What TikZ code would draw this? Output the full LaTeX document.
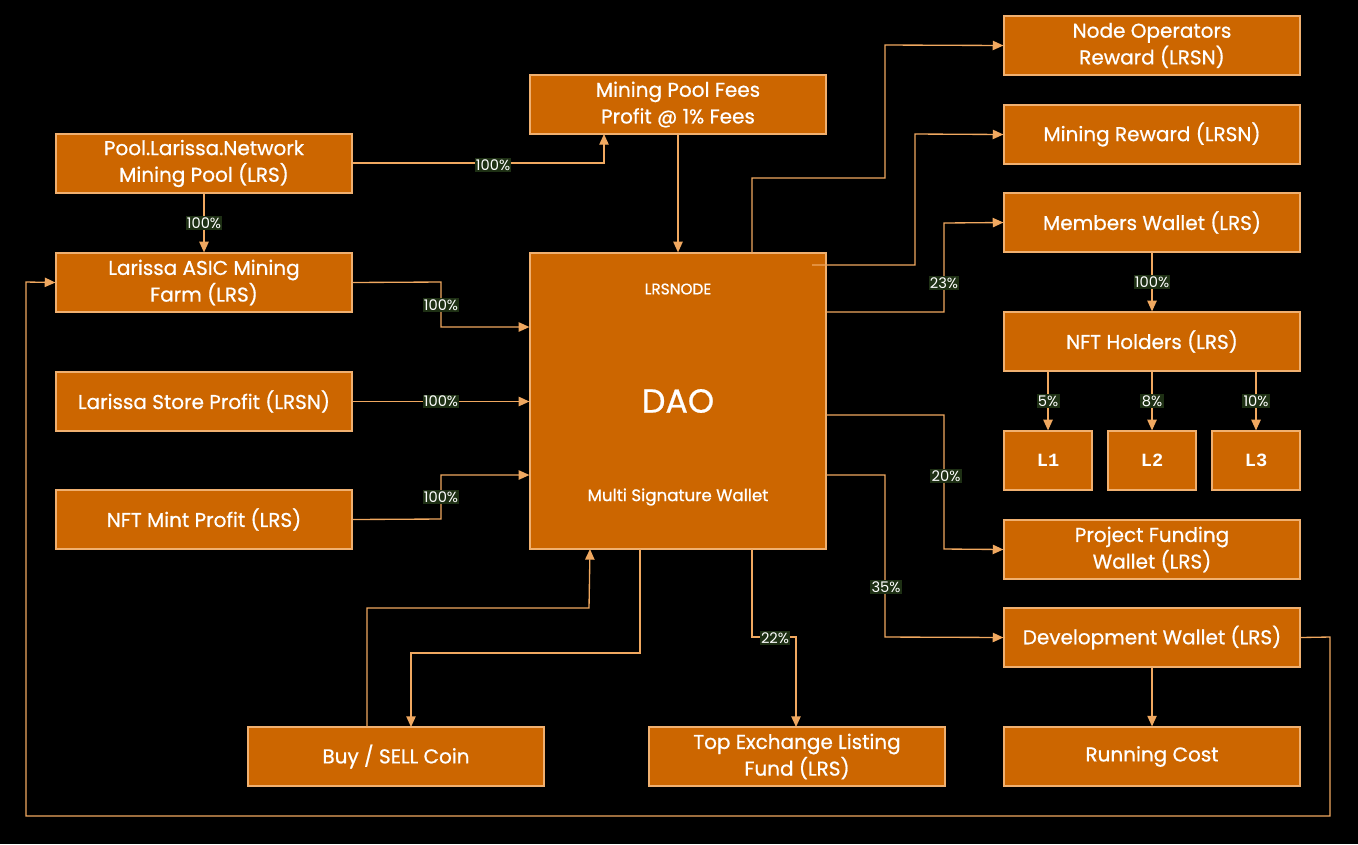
\documentclass[tikz,border=0pt]{standalone}
\usepackage{fontspec}
\setmainfont{Poppins}[BoldFont=Poppins,BoldFeatures={FakeBold=0.7}]
\setmonofont{Liberation Mono}
\usetikzlibrary{arrows.meta}
\definecolor{boxfill}{HTML}{CC6600}
\definecolor{boxline}{HTML}{F0B070}
\definecolor{wire}{HTML}{F0A860}
\definecolor{lblbg}{HTML}{1E3014}
\begin{document}
\begin{tikzpicture}[x=0.75pt,y=-0.75pt,
  box/.style={draw=boxline,fill=boxfill,line width=0.9pt,text=white,align=center,font=\fontsize{15}{20}\selectfont\bfseries},
  mbox/.style={box,font=\fontsize{14}{16}\selectfont\ttfamily\bfseries},
  w/.style={draw=wire,line width=1pt},
  a/.style={w,-{Triangle[length=8pt,width=7pt]}},
  lbl/.style={fill=lblbg,text=white,inner sep=1pt,font=\fontsize{11}{12}\selectfont}]
\fill[black] (0,0) rectangle (1358,844);
\useasboundingbox (0,0) rectangle (1358,844);
\newcommand{\bx}[7][box]{\node[#1,minimum width=#5*0.75pt-#3*0.75pt,minimum height=#6*0.75pt-#4*0.75pt,inner sep=0pt] (#2) at ({(#3+#5)/2},{(#4+#6)/2}) {#7};}
\bx{mpf}{530}{75}{826}{134}{Mining Pool Fees\\Profit @ 1\% Fees}
\bx{pool}{56}{134}{352}{193}{Pool.Larissa.Network\\Mining Pool (LRS)}
\bx{asic}{56}{253}{352}{312}{Larissa ASIC Mining\\Farm (LRS)}
\bx{store}{56}{372}{352}{431}{Larissa Store Profit (LRSN)}
\bx{mint}{56}{490}{352}{549}{NFT Mint Profit (LRS)}
\bx{dao}{530}{253}{826}{549}{}
\node[text=white,font=\fontsize{11.5}{13}\selectfont\bfseries] (t1) at (678,289) {LRSNODE};
\node[text=white,font=\fontsize{25}{28}\selectfont\bfseries] (t2) at (678,401) {DAO};
\node[text=white,font=\fontsize{12.5}{14}\selectfont\bfseries] (t3) at (678,497) {Multi Signature Wallet};
\bx{node}{1004}{16}{1300}{75}{Node Operators\\Reward (LRSN)}
\bx{mr}{1004}{105}{1300}{164}{Mining Reward (LRSN)}
\bx{mem}{1004}{193}{1300}{252}{Members Wallet (LRS)}
\bx{nfth}{1004}{312}{1300}{371}{NFT Holders (LRS)}
\bx[mbox]{l1}{1004}{431}{1092}{490}{L1}
\bx[mbox]{l2}{1108}{431}{1196}{490}{L2}
\bx[mbox]{l3}{1212}{431}{1300}{490}{L3}
\bx{proj}{1004}{520}{1300}{579}{Project Funding\\Wallet (LRS)}
\bx{dev}{1004}{608}{1300}{667}{Development Wallet (LRS)}
\bx{run}{1004}{727}{1300}{786}{Running Cost}
\bx{buy}{248}{727}{544}{786}{Buy / SELL Coin}
\bx{top}{649}{727}{945}{786}{Top Exchange Listing\\Fund (LRS)}
\coordinate (mrs) at (812,265);
% connectors
\draw[a] (pool.east|-0,163) -| (604,134);
\node[lbl] at (493,165) {100\%};
\draw[a] (pool.south) -- (asic.north) node[midway,lbl] {100\%};
\draw[a] (mpf.south) -- (dao.north);
\draw[a] (asic.east) -- (441,282) -- (441,327) -- (dao.west|-0,327);
\node[lbl] at (441,305) {100\%};
\draw[a] (store.east) -- (dao.west|-store.east) node[midway,lbl] {100\%};
\draw[a] (mint.east) -- (441,519) -- (441,475) -- (dao.west|-0,475);
\node[lbl] at (441,497) {100\%};
\draw[a] (752,253) -- (752,178) -- (885,178) -- (885,45) -- (node.west);
\draw[a] (mrs) -- (915,265) -- (915,134) -- (mr.west);
\draw[a] (dao.east|-0,312) -- (944,312) -- (944,223) -- (mem.west);
\node[lbl] at (944,283) {23\%};
\draw[a] (mem.south) -- (nfth.north) node[midway,lbl] {100\%};
\draw[a] (l1.north|-nfth.south) -- (l1.north) node[midway,lbl] {5\%};
\draw[a] (l2.north|-nfth.south) -- (l2.north) node[midway,lbl] {8\%};
\draw[a] (l3.north|-nfth.south) -- (l3.north) node[midway,lbl] {10\%};
\draw[a] (dao.east|-0,415) -- (944,415) -- (944,549) -- (proj.west);
\node[lbl] at (946,476) {20\%};
\draw[a] (dao.east|-0,475) -- (885,475) -- (885,637) -- (dev.west);
\node[lbl] at (886,587) {35\%};
\draw[a] (752,549) -- (752,637) -- (796,637) -- (796,727);
\node[lbl] at (775,638) {22\%};
\draw[a] (640,549) -- (640,653) -- (411,653) -- (411,727);
\draw[a] (367,727) -- (367,608) -- (589,608) -- (590,549);
\draw[a] (dev.south) -- (run.north);
\draw[a] (dev.east) -- (1330,637) -- (1330,816) -- (26,816) -- (26,282) -- (asic.west);
\end{tikzpicture}
\end{document}
